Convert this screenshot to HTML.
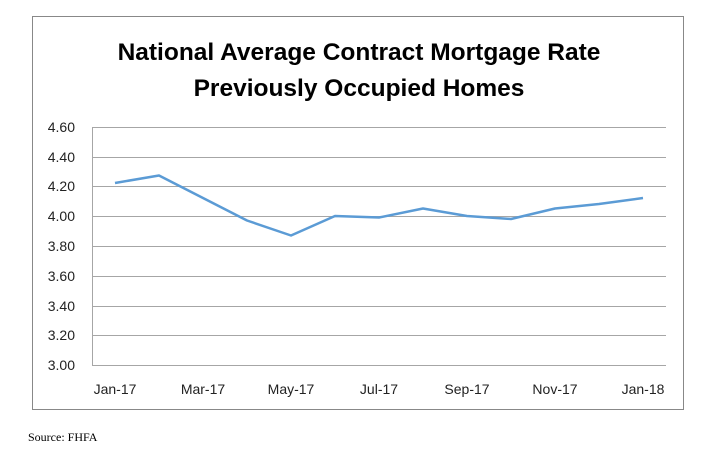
<!DOCTYPE html>
<html><head><style>
body{margin:0;background:#fff;width:719px;height:453px;overflow:hidden}
</style></head><body>
<svg width="719" height="453" xmlns="http://www.w3.org/2000/svg">
<rect x="32.5" y="16.5" width="651" height="393" fill="#fff" stroke="#888" stroke-width="1"/>
<g font-family="Liberation Sans, sans-serif" font-weight="bold" font-size="24.5" text-anchor="middle" fill="#000">
<text x="359" y="60">National Average Contract Mortgage Rate</text>
<text x="359" y="96">Previously Occupied Homes</text>
</g>
<g stroke="#a6a6a6" stroke-width="1">
<line x1="92" x2="666" y1="127.5" y2="127.5"/>
<line x1="92" x2="666" y1="157.5" y2="157.5"/>
<line x1="92" x2="666" y1="186.5" y2="186.5"/>
<line x1="92" x2="666" y1="216.5" y2="216.5"/>
<line x1="92" x2="666" y1="246.5" y2="246.5"/>
<line x1="92" x2="666" y1="276.5" y2="276.5"/>
<line x1="92" x2="666" y1="306.5" y2="306.5"/>
<line x1="92" x2="666" y1="335.5" y2="335.5"/>
<line x1="92" x2="666" y1="365.5" y2="365.5"/>
<line x1="92.5" x2="92.5" y1="127" y2="365"/>
</g>
<g font-family="Liberation Sans, sans-serif" font-size="14" fill="#222" text-anchor="end">
<text x="75" y="132">4.60</text><text x="75" y="162">4.40</text><text x="75" y="191">4.20</text>
<text x="75" y="221">4.00</text><text x="75" y="251">3.80</text><text x="75" y="281">3.60</text>
<text x="75" y="311">3.40</text><text x="75" y="340">3.20</text><text x="75" y="370">3.00</text>
</g>
<g font-family="Liberation Sans, sans-serif" font-size="14" fill="#222" text-anchor="middle">
<text x="115" y="394">Jan-17</text><text x="203" y="394">Mar-17</text><text x="291" y="394">May-17</text>
<text x="379" y="394">Jul-17</text><text x="467" y="394">Sep-17</text><text x="555" y="394">Nov-17</text>
<text x="643" y="394">Jan-18</text>
</g>
<polyline fill="none" stroke="#5b9bd5" stroke-width="2.5" stroke-linejoin="round"
points="115,183 159,175.5 203,198 247,220.5 291,235.5 335,216 379,217.5 423,208.5 467,216 511,219 555,208.5 599,204 643,198"/>
<text x="28" y="441" font-family="Liberation Serif, serif" font-size="12" fill="#000">Source: FHFA</text>
</svg>
</body></html>
